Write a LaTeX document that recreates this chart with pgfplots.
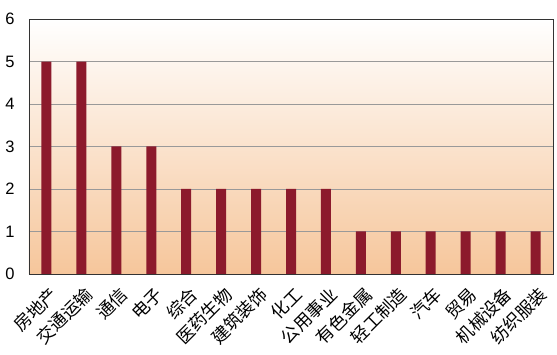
\documentclass[border=0pt]{standalone}
\usepackage{pgfplots}
\pgfplotsset{compat=1.18}
\usepackage{fontspec}
\setmainfont{Liberation Sans}
\newfontfamily\cjk{Noto Sans CJK SC}
\definecolor{barred}{RGB}{140,26,44}
\definecolor{peach}{RGB}{246,198,155}
\definecolor{cream}{RGB}{251,233,212}
\begin{document}
\begin{tikzpicture}[x=1pt,y=1pt]
\begin{axis}[
  name=ax,
  scale only axis,
  width=524pt, height=255pt,
  xmin=-0.5, xmax=14.5, ymin=0, ymax=6,
  ytick={0,1,2,3,4,5,6},
  xtick={0,...,14},
  xticklabels={房地产,交通运输,通信,电子,综合,医药生物,建筑装饰,化工,公用事业,有色金属,轻工制造,汽车,贸易,机械设备,纺织服装},
  xticklabel style={font=\cjk\fontsize{17.5}{17.5}\selectfont, xshift=8pt, yshift=-17pt, rotate=45, anchor=east, inner sep=0pt},
  yticklabel style={font=\fontsize{16.5}{16.5}\selectfont, xshift=-11pt},
  /pgf/number format/assume math mode=true,
  major tick length=0pt,
  ymajorgrids,
  grid style={gray!80, line width=0.5pt},
  axis line style={black!80, line width=0.8pt},
  axis background/.style={shade, top color=white, middle color=cream, bottom color=peach},
  ybar, bar width=10pt,
]
\addplot[fill=barred, draw=none] coordinates {
 (0,5) (1,5) (2,3) (3,3) (4,2) (5,2) (6,2) (7,2) (8,2) (9,1) (10,1) (11,1) (12,1) (13,1) (14,1)
};
\end{axis}
\path[use as bounding box] (ax.north west) ++(-29pt,19pt) rectangle ([shift={(4pt,-81pt)}]ax.south east);
\end{tikzpicture}
\end{document}
